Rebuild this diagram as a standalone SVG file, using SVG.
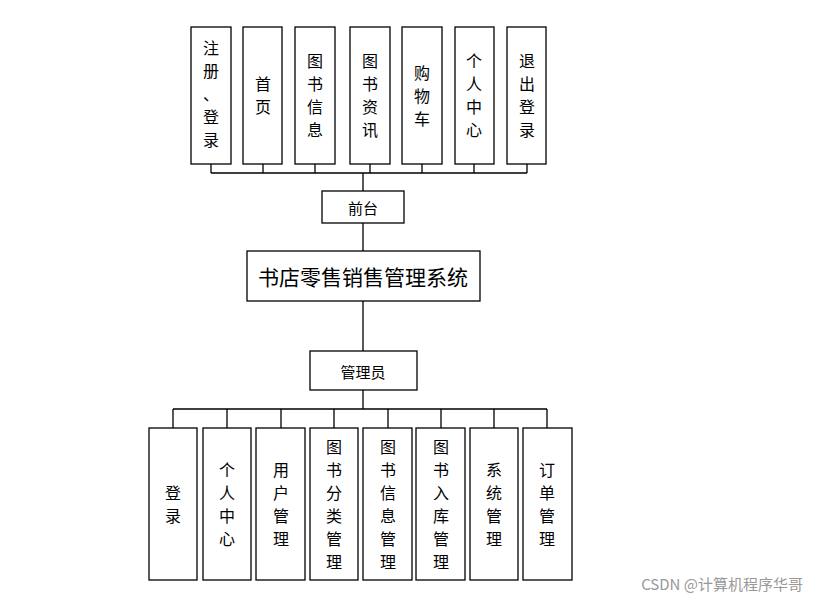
<svg xmlns="http://www.w3.org/2000/svg" width="819" height="604" viewBox="0 0 819 604">
<style>
rect{fill:#fff;stroke:#000;stroke-width:1.3}
text{font-family:"Noto Sans CJK SC","Liberation Sans",sans-serif;font-size:16px;text-anchor:middle;dominant-baseline:central;fill:#000}
.c{fill:none;stroke:#000;stroke-width:1.3}
</style>
<rect x="0" y="0" width="819" height="604" style="stroke:none"/>
<g id="connectors">
<path class="c" d="M211 164V173M263 164V173M315 164V173M370 164V173M422 164V173M474 164V173M527 164V173M211 173H527M363 173V191M363 223V251M363 301V351M363 390V409M173 409H547M173 409V428M227 409V428M281 409V428M334 409V428M388 409V428M441 409V428M494 409V428M547 409V428"/>
</g>
<g id="n1"><rect x="191" y="27" width="40" height="137"/><text x="211" y="47">注</text><text x="211" y="70">册</text><text x="211" y="93">、</text><text x="211" y="116">登</text><text x="211" y="139">录</text></g>
<g id="n2"><rect x="243" y="27" width="39" height="137"/><text x="263" y="83">首</text><text x="263" y="106">页</text></g>
<g id="n3"><rect x="295" y="27" width="40" height="137"/><text x="315" y="60">图</text><text x="315" y="83">书</text><text x="315" y="106">信</text><text x="315" y="129">息</text></g>
<g id="n4"><rect x="350" y="27" width="40" height="137"/><text x="370" y="60">图</text><text x="370" y="83">书</text><text x="370" y="106">资</text><text x="370" y="129">讯</text></g>
<g id="n5"><rect x="402" y="27" width="40" height="137"/><text x="422" y="72">购</text><text x="422" y="95">物</text><text x="422" y="118">车</text></g>
<g id="n6"><rect x="455" y="27" width="39" height="137"/><text x="474" y="60">个</text><text x="474" y="83">人</text><text x="474" y="106">中</text><text x="474" y="129">心</text></g>
<g id="n7"><rect x="507" y="27" width="39" height="137"/><text x="527" y="60">退</text><text x="527" y="83">出</text><text x="527" y="106">登</text><text x="527" y="129">录</text></g>
<g id="front"><rect x="322" y="191" width="82" height="32"/><text x="363" y="207" style="font-size:15px">前台</text></g>
<g id="main"><rect x="247" y="251" width="233" height="50"/><text x="363" y="276" style="font-size:21px">书店零售销售管理系统</text></g>
<g id="admin"><rect x="310" y="351" width="107" height="39"/><text x="363" y="371" style="font-size:15px">管理员</text></g>
<g id="b1"><rect x="149" y="428" width="48" height="152"/><text x="173" y="492">登</text><text x="173" y="515">录</text></g>
<g id="b2"><rect x="203" y="428" width="48" height="152"/><text x="227" y="469">个</text><text x="227" y="492">人</text><text x="227" y="515">中</text><text x="227" y="538">心</text></g>
<g id="b3"><rect x="256" y="428" width="49" height="152"/><text x="281" y="469">用</text><text x="281" y="492">户</text><text x="281" y="515">管</text><text x="281" y="538">理</text></g>
<g id="b4"><rect x="310" y="428" width="48" height="152"/><text x="334" y="446">图</text><text x="334" y="469">书</text><text x="334" y="492">分</text><text x="334" y="515">类</text><text x="334" y="538">管</text><text x="334" y="561">理</text></g>
<g id="b5"><rect x="363" y="428" width="49" height="152"/><text x="388" y="446">图</text><text x="388" y="469">书</text><text x="388" y="492">信</text><text x="388" y="515">息</text><text x="388" y="538">管</text><text x="388" y="561">理</text></g>
<g id="b6"><rect x="416" y="428" width="49" height="152"/><text x="441" y="446">图</text><text x="441" y="469">书</text><text x="441" y="492">入</text><text x="441" y="515">库</text><text x="441" y="538">管</text><text x="441" y="561">理</text></g>
<g id="b7"><rect x="470" y="428" width="48" height="152"/><text x="494" y="469">系</text><text x="494" y="492">统</text><text x="494" y="515">管</text><text x="494" y="538">理</text></g>
<g id="b8"><rect x="523" y="428" width="49" height="152"/><text x="547" y="469">订</text><text x="547" y="492">单</text><text x="547" y="515">管</text><text x="547" y="538">理</text></g>
<text x="803" y="583" style="text-anchor:end;fill:#999;font-size:15px">CSDN @计算机程序华哥</text>
</svg>
